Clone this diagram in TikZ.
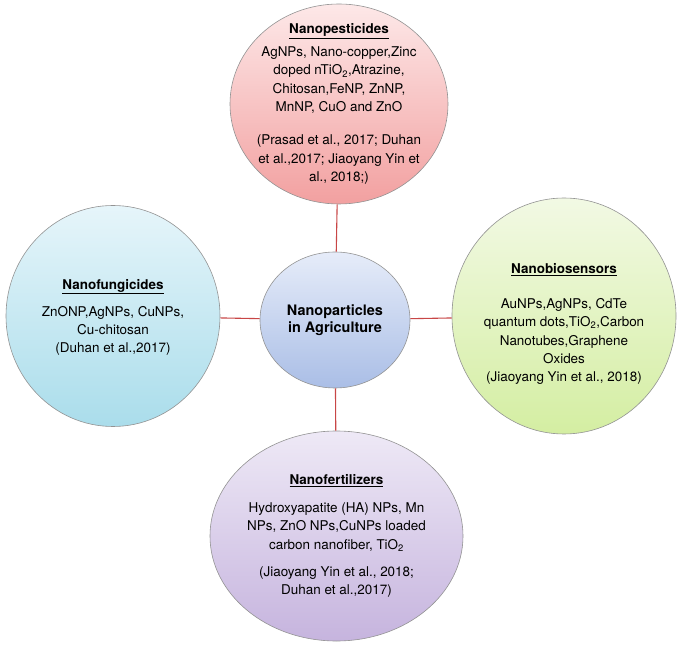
\documentclass[tikz,border=0pt]{standalone}
\usepackage{fontspec}
\setmainfont{TeX Gyre Heros}
\usetikzlibrary{positioning, shapes.geometric}
\definecolor{hubtop}{RGB}{230,236,249}
\definecolor{hubbot}{RGB}{170,190,230}
\definecolor{pesttop}{RGB}{253,232,232}
\definecolor{pestbot}{RGB}{242,160,160}
\definecolor{fungtop}{RGB}{230,245,250}
\definecolor{fungbot}{RGB}{170,221,235}
\definecolor{biotop}{RGB}{242,249,228}
\definecolor{biobot}{RGB}{212,238,162}
\definecolor{perttop}{RGB}{238,233,246}
\definecolor{pertbot}{RGB}{198,180,222}
\definecolor{linkred}{RGB}{200,70,70}
\tikzset{node distance=216bp,
         topic/.style={ellipse, draw=gray!85, line width=0.6bp, inner sep=0pt},
         blurb/.style={align=center, inner sep=0pt,
                       font=\fontsize{13.5}{18.5}\selectfont},
         link/.style={draw=linkred, line width=1.1bp},
         }
\newcommand{\heading}[1]{\underline{\textbf{#1}}}

\begin{document}
\begin{tikzpicture}[x=1bp, y=1bp]
    \useasboundingbox (-335,-327) rectangle (350,320);
    % the five circles
    \node[topic, minimum width=150bp, minimum height=136bp,
          top color=hubtop, bottom color=hubbot] (hub) at (0,0) {};
    \node[topic, above of=hub, xshift=4bp, minimum width=218bp, minimum height=200bp,
          top color=pesttop, bottom color=pestbot] (pest) {};
    \node[topic, left of=hub, node distance=222bp, yshift=4bp,
          minimum width=214bp, minimum height=221bp,
          top color=fungtop, bottom color=fungbot] (fung) {};
    \node[topic, right of=hub, node distance=229bp, yshift=4bp,
          minimum width=224bp, minimum height=236bp,
          top color=biotop, bottom color=biobot] (bio) {};
    \node[topic, below of=hub, xshift=1.5bp, minimum width=253bp, minimum height=210bp,
          top color=perttop, bottom color=pertbot] (fert) {};

    % texts
    \node[blurb, font=\fontsize{14.5}{17}\selectfont\bfseries] (hubtext) at (hub)
        {Nanoparticles\\in Agriculture};
    \node[blurb] (pesttext) at (pest)
        {\heading{Nanopesticides}\\[4.5bp]
         AgNPs, Nano-copper,Zinc\\
         doped nTiO\textsubscript{2},Atrazine,\\
         Chitosan,FeNP, ZnNP,\\
         MnNP, CuO and ZnO\\[14.5bp]
         (Prasad et al., 2017; Duhan\\
         et al.,2017; Jiaoyang Yin et\\
         al., 2018;)};
    \node[blurb, yshift=-1.5bp] (fungtext) at (fung)
        {\heading{Nanofungicides}\\[8.5bp]
         ZnONP,AgNPs, CuNPs,\\
         Cu-chitosan\\
         (Duhan et al.,2017)};
    \node[blurb, yshift=-8bp] (biotext) at (bio)
        {\heading{Nanobiosensors}\\[16.5bp]
         AuNPs,AgNPs, CdTe\\
         quantum dots,TiO\textsubscript{2},Carbon\\
         Nanotubes,Graphene\\
         Oxides\\
         (Jiaoyang Yin et al., 2018)};
    \node[blurb] (ferttext) at (fert)
        {\heading{Nanofertilizers}\\[9.5bp]
         Hydroxyapatite (HA) NPs, Mn\\
         NPs, ZnO NPs,CuNPs loaded\\
         carbon nanofiber, TiO\textsubscript{2}\\[8.5bp]
         (Jiaoyang Yin et al., 2018;\\
         Duhan et al.,2017)};

    % spokes
    \draw[link] (hub) -- (pest);
    \draw[link] (hub) -- (fung);
    \draw[link] (hub) -- (bio);
    \draw[link] (hub) -- (fert);
\end{tikzpicture}
\end{document}
